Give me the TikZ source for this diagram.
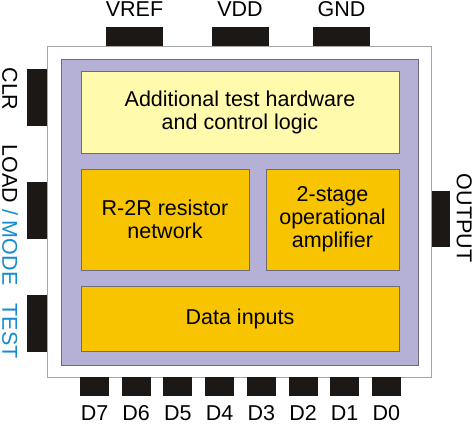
\documentclass[tikz,border=0pt]{standalone}
\usepackage{fontspec}
\setmainfont{Liberation Sans}
\usetikzlibrary{positioning}
\definecolor{lavender}{RGB}{181,176,214}
\definecolor{paleyellow}{RGB}{255,250,172}
\definecolor{amber}{RGB}{248,196,0}
\definecolor{pinblack}{RGB}{28,24,22}
\definecolor{testblue}{RGB}{20,140,210}
\definecolor{edgegray}{RGB}{110,106,118}

\begin{document}
\begin{tikzpicture}[x=1pt,y=-1pt,
  every node/.style={font=\fontsize{21.5}{23}\selectfont, inner sep=0pt},
  block/.style={draw=edgegray, line width=0.8pt, align=center},
  pinpad/.style={fill=pinblack},
  plabel/.style={text=black},
  sidelabel/.style={plabel, rotate=-90, text height=15.4pt, text depth=0pt}]
  \useasboundingbox (0,0) rectangle (474,424);
  % package body and die
  \node[draw=black!35, fill=white, minimum width=384pt, minimum height=331pt] (chip) at (239,211.5) {};
  \node[block, fill=lavender, minimum width=357pt, minimum height=306pt] (core) at (239.5,212) {};
  \node[block, fill=paleyellow, minimum width=318pt, minimum height=82pt] (ctrl) at (240,112)
    {Additional test hardware\\and control logic};
  \node[block, fill=amber, minimum width=168pt, minimum height=101pt] (r2r) at (165,219.5)
    {R-2R resistor\\network};
  \node[block, fill=amber, minimum width=133pt, minimum height=101pt] (opamp) at (332.5,219.5)
    {2-stage\\operational\\amplifier};
  \node[block, fill=amber, minimum width=318pt, minimum height=65pt] (data) at (240,318.5)
    {Data inputs};
  % top pins
  \foreach \name/\txt/\x in {vref/VREF/134.5, vdd/VDD/240, gnd/GND/341.5} {
    \node[pinpad, minimum width=57pt, minimum height=19pt] (\name) at (\x,36.5) {};
    \node[plabel, above=10pt of \name] {\txt};
  }
  % left pins
  \node[pinpad, minimum width=20pt, minimum height=57pt] (clr) at (37,97.5) {};
  \node[pinpad, minimum width=20pt, minimum height=57pt] (load) at (37,210) {};
  \node[pinpad, minimum width=20pt, minimum height=57pt] (test) at (37,323.5) {};
  \node[sidelabel] (clrlbl) at (10,89) {CLR};
  \node[sidelabel] (loadlbl) at (10,215) {LOAD \textcolor{testblue}{/ MODE}};
  \node[sidelabel, text=testblue] (testlbl) at (10,331) {TEST};
  % output pin
  \node[pinpad, minimum width=18pt, minimum height=56pt] (out) at (441,219) {};
  \node[sidelabel] (outlbl) at (464.5,218) {OUTPUT};
  % data pins
  \foreach \n [count=\k from 0] in {7,6,...,0} {
    \node[pinpad, minimum width=29pt, minimum height=19pt] (d\n) at ({94.5+41.7*\k},386.5) {};
    \node[plabel, below=9pt of d\n] {D\n};
  }
\end{tikzpicture}
\end{document}
